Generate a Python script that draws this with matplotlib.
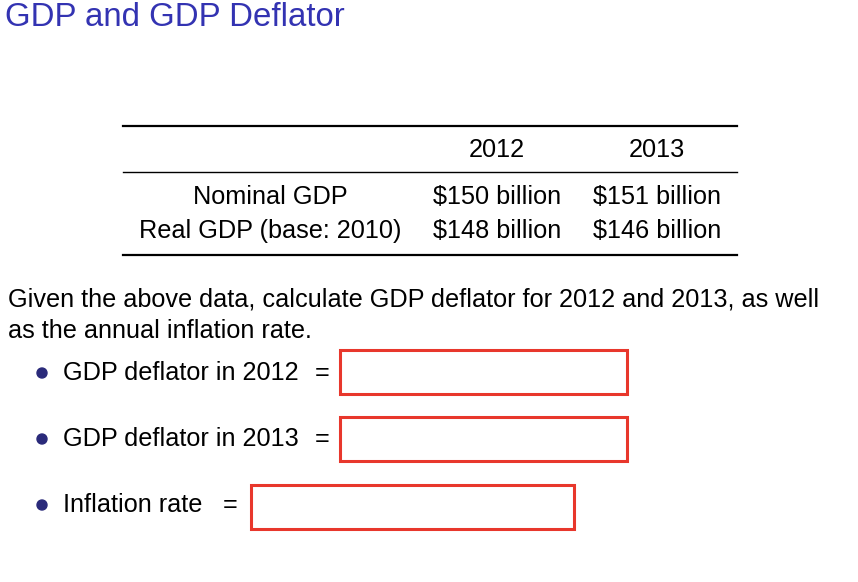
import matplotlib
matplotlib.use("Agg")
import matplotlib.pyplot as plt
from matplotlib.patches import Rectangle, Circle

title = "GDP and GDP Deflator"
years = ["2012", "2013"]
rows = ["Nominal GDP", "Real GDP (base: 2010)"]
values = [["$150 billion", "$151 billion"], ["$148 billion", "$146 billion"]]
para = ["Given the above data, calculate GDP deflator for 2012 and 2013, as well",
        "as the annual inflation rate."]
bullets = ["GDP deflator in 2012", "GDP deflator in 2013", "Inflation rate"]

plt.rcParams['font.family'] = ['Liberation Sans', 'DejaVu Sans']
fig = plt.figure(figsize=(8.58, 5.82), dpi=100)
ax = fig.add_axes([0, 0, 1, 1])
ax.set_xlim(0, 858); ax.set_ylim(582, 0); ax.axis('off')

ax.text(5, 18, title, color='#3333B2', fontsize=23.8, va='center', ha='left')
fs = 18.2
ax.plot([123, 737], [126, 126], color='k', lw=1.6)
ax.plot([123, 737], [172, 172], color='k', lw=1.0)
ax.plot([123, 737], [255, 255], color='k', lw=1.6)
colx = [497, 657]
for x, y in zip(colx, years):
    ax.text(x, 150, y, fontsize=fs, ha='center', va='center')
for i, (r, vals) in enumerate(zip(rows, values)):
    yy = 197 + 34 * i
    ax.text(270, yy, r, fontsize=fs, ha='center', va='center')
    for x, v in zip(colx, vals):
        ax.text(x, yy, v.replace('$', r'\$'), fontsize=fs, ha='center', va='center')
for i, p in enumerate(para):
    ax.text(8, 299 + 32 * i, p, fontsize=fs, ha='left', va='center')
boxes = [(340, 350, 287, 44), (340, 417, 287, 44), (251, 485, 323, 44)]
eqx = [322, 322, 230]
for i, (b, bx) in enumerate(zip(bullets, boxes)):
    yy = 373 + 66 * i
    ax.add_patch(Circle((42, yy), 5, color='#2a2a7a'))
    ax.text(63, yy, b, fontsize=fs, ha='left', va='center')
    ax.text(eqx[i], yy, "=", fontsize=fs, ha='center', va='center')
    ax.add_patch(Rectangle((bx[0], bx[1]), bx[2], bx[3], fill=False, ec='#e8372c', lw=2.2))
fig.savefig("out.png", dpi=100)
